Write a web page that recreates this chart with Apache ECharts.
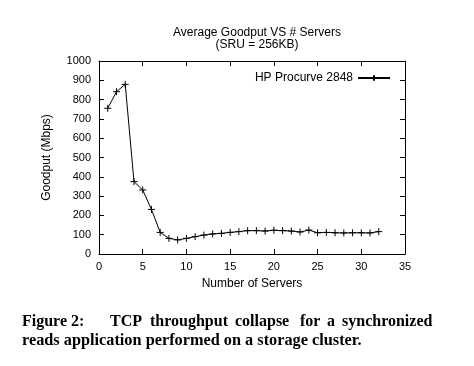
<!DOCTYPE html>
<html><head><meta charset="utf-8">
<script src="https://cdn.jsdelivr.net/npm/echarts@6/dist/echarts.min.js"></script>
<style>html,body{margin:0;padding:0;background:#fff}#c{width:474px;height:366px}</style>
</head><body><div id="c"></div>
<script>
const servers = [1,2,3,4,5,6,7,8,9,10,11,12,13,14,15,16,17,18,19,20,21,22,23,24,25,26,27,28,29,30,31,32];
const goodput = [755,841,879,375,332,231,112,81,73,81,90,98,104,107,112,116,121,121,119,123,121,119,114,124,110,112,110,109,110,110,109,116];
const seriesName = 'HP Procurve 2848';
const titleText = 'Average Goodput VS # Servers\n(SRU = 256KB)';
const xName = 'Number of Servers';
const yName = 'Goodput (Mbps)';
const captionLine1 = ['Figure','2:','TCP','throughput','collapse','for','a','synchronized'];
const captionLine1X = [22,71,110,150,235,300,327,342];
const captionLine2 = 'reads application performed on a storage cluster.';

const chart = echarts.init(document.getElementById('c'));
const font = '"Liberation Sans", Arial, sans-serif';
const axisCommon = {
  axisLine:{show:true,onZero:false,lineStyle:{color:'#000',width:1}},
  axisTick:{show:true,inside:true,length:5,lineStyle:{color:'#000'}},
  splitLine:{show:false}
};
const plus = 'path://M0,5L10,5M5,0L5,10';
const capFont = 'bold 16px "Liberation Serif", "Times New Roman", serif';
const capFont2 = 'bold 16.3px "Liberation Serif", "Times New Roman", serif';
const graphics = captionLine1.map((w,i)=>({type:'text',left:captionLine1X[i],top:314,style:{text:w,font:capFont,fill:'#000'}}));
graphics.push({type:'text',left:22,top:333,style:{text:captionLine2,font:capFont2,fill:'#000'}});
const intLabel = v => String(v);
chart.setOption({
  animation:false,
  title:{text:titleText,left:252,top:22,textAlign:'center',textStyle:{fontFamily:font,fontSize:12,fontWeight:'normal',color:'#000',lineHeight:12}},
  grid:{left:99,right:69,top:61,bottom:112},
  legend:{data:[seriesName],right:78,top:67,align:'right',itemWidth:32,itemHeight:7,textStyle:{fontFamily:font,fontSize:12,color:'#000'}},
  xAxis:[
    Object.assign({type:'value',min:0,max:35,interval:5,position:'bottom',name:xName,nameLocation:'middle',nameGap:24,
      nameTextStyle:{fontFamily:font,fontSize:12,color:'#000'},
      axisLabel:{fontFamily:font,fontSize:11,color:'#000',margin:7,formatter:intLabel}},axisCommon),
    Object.assign({type:'value',min:0,max:35,interval:5,position:'top',axisLabel:{show:false}},axisCommon)
  ],
  yAxis:[
    Object.assign({type:'value',min:0,max:1000,interval:100,position:'left',name:yName,nameLocation:'middle',nameGap:46,
      nameTextStyle:{fontFamily:font,fontSize:12,color:'#000'},
      axisLabel:{fontFamily:font,fontSize:11,color:'#000',margin:8,formatter:intLabel}},axisCommon),
    Object.assign({type:'value',min:0,max:1000,interval:100,position:'right',axisLabel:{show:false}},axisCommon)
  ],
  series:[{name:seriesName,type:'line',data:servers.map((s,i)=>[s,goodput[i]]),
    symbol:plus,symbolSize:7,showSymbol:true,
    lineStyle:{color:'#000',width:1},
    itemStyle:{color:'none',borderColor:'#000',borderWidth:1}}],
  graphic:graphics
});
</script></body></html>
